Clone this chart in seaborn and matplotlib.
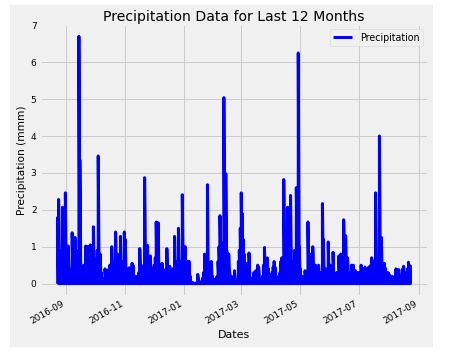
import pandas as pd
import seaborn as sns
import matplotlib.pyplot as plt
import matplotlib.dates as mdates
from matplotlib.patches import Rectangle

# daily maximum precipitation, one list per month
aug_2016 = [1.79, 2.28, 0.21, 0.70, 0.90, 2.07, 0.90, 0.60, 2.46]
sep_2016 = [1.00, 0.30, 1.02, 0.40, 0.30, 0.20, 1.38, 0.50, 1.20, 1.25,
            0.40, 0.30, 0.90, 6.70, 3.35, 0.50, 0.40, 0.30, 0.50, 0.20,
            1.02, 0.20, 1.00, 1.00, 0.20, 1.05, 0.30, 0.50, 1.54, 0.70]
oct_2016 = [0.60, 0.30, 0.90, 3.46, 0.70, 0.80, 0.30, 0.15, 0.10, 0.05,
            0.40, 0.30, 0.15, 0.37, 0.20, 0.50, 0.30, 1.00, 0.30, 0.20,
            0.50, 1.40, 0.20, 0.80, 0.20, 0.20, 1.28, 0.40, 0.60, 0.20,
            1.40]
nov_2016 = [1.20, 0.40, 0.30, 0.20, 0.43, 0.30, 0.20, 0.55, 0.50, 0.15,
            0.10, 0.20, 0.15, 0.10, 0.30, 0.95, 0.30, 0.35, 0.20, 0.50,
            2.87, 0.80, 0.40, 1.04, 0.30, 0.50, 0.75, 0.30, 0.40, 0.40]
dec_2016 = [0.50, 0.70, 1.67, 1.60, 1.65, 0.30, 0.25, 0.20, 0.55, 0.30,
            0.20, 0.30, 0.40, 0.95, 0.30, 0.20, 0.47, 0.30, 0.20, 0.40,
            0.30, 1.28, 0.50, 0.30, 0.60, 1.50, 0.50, 0.30, 0.60, 2.41,
            1.00]
jan_2017 = [0.70, 1.00, 0.60, 0.30, 0.60, 0.60, 0.20, 0.05, 0.00, 0.03,
            0.00, 0.00, 0.02, 0.00, 0.25, 0.10, 0.00, 0.00, 0.03, 0.15,
            0.30, 0.80, 0.20, 0.40, 2.68, 0.40, 0.10, 0.15, 0.60, 0.20,
            0.05]
feb_2017 = [0.10, 0.05, 0.15, 0.20, 0.60, 1.00, 1.84, 0.90, 1.10, 0.70,
            5.04, 1.50, 2.98, 0.90, 0.50, 0.80, 0.30, 0.20, 0.15, 0.10,
            0.20, 0.35, 0.10, 0.05, 0.10, 0.60, 0.90, 1.50]
mar_2017 = [2.46, 1.90, 1.20, 0.80, 0.30, 0.55, 0.50, 0.50, 0.83, 0.10,
            0.15, 0.05, 0.10, 0.30, 0.20, 0.35, 0.20, 0.50, 0.45, 0.10,
            0.05, 0.10, 0.20, 0.50, 0.98, 0.60, 0.30, 0.70, 0.40, 0.20,
            0.25]
apr_2017 = [0.20, 0.30, 0.45, 0.60, 0.44, 0.20, 0.10, 0.10, 0.20, 0.30,
            0.60, 0.70, 0.60, 2.82, 0.80, 0.50, 0.60, 2.07, 0.50, 0.60,
            2.39, 0.60, 0.40, 0.50, 0.90, 0.30, 2.60, 0.60, 6.25, 1.00]
may_2017 = [0.40, 0.10, 0.20, 0.05, 0.15, 0.35, 0.20, 0.30, 1.67, 0.30,
            0.80, 0.30, 0.20, 1.00, 0.30, 0.20, 0.50, 0.30, 0.15, 0.50,
            0.20, 0.20, 0.30, 2.17, 1.20, 0.40, 0.20, 0.40, 0.30, 1.13,
            0.40]
jun_2017 = [0.50, 0.30, 0.40, 0.85, 0.30, 0.15, 0.20, 0.30, 0.30, 0.75,
            0.40, 0.80, 0.30, 0.40, 1.73, 0.50, 1.30, 0.40, 0.70, 0.30,
            0.20, 0.30, 0.50, 0.20, 0.50, 0.20, 0.35, 0.20, 0.30, 0.25]
jul_2017 = [0.30, 0.25, 0.50, 0.30, 0.20, 0.33, 0.45, 0.30, 0.15, 0.20,
            0.45, 0.30, 0.50, 0.70, 0.40, 0.60, 0.50, 2.46, 0.60, 0.38,
            0.60, 4.00, 0.90, 1.25, 0.50, 0.40, 0.55, 0.42, 0.30, 0.20,
            0.30]
aug_2017 = [0.25, 0.15, 0.10, 0.20, 0.15, 0.10, 0.20, 0.40, 0.38, 0.30,
            0.38, 0.20, 0.15, 0.20, 0.40, 0.47, 0.20, 0.10, 0.30, 0.40,
            0.58, 0.50, 0.50]

month_starts = ["2016-08-23", "2016-09-01", "2016-10-01", "2016-11-01",
                "2016-12-01", "2017-01-01", "2017-02-01", "2017-03-01",
                "2017-04-01", "2017-05-01", "2017-06-01", "2017-07-01",
                "2017-08-01"]
month_values = [aug_2016, sep_2016, oct_2016, nov_2016, dec_2016, jan_2017,
                feb_2017, mar_2017, apr_2017, may_2017, jun_2017, jul_2017,
                aug_2017]

# driest station reads 0.00 on every day
dry_reading = 0.0

frames = []
for start, vals in zip(month_starts, month_values):
    dates = pd.date_range(start, periods=len(vals), freq="D")
    frames.append(pd.DataFrame({"date": dates, "prcp": vals}))
    frames.append(pd.DataFrame({"date": dates, "prcp": dry_reading}))
df = pd.concat(frames, ignore_index=True)

plt.style.use("fivethirtyeight")

fig = plt.figure(figsize=(474 / 72, 354 / 72), dpi=72, facecolor="white")
fig.patches.append(Rectangle((10 / 474, 1 - 347 / 354), 423 / 474, 342 / 354,
                             transform=fig.transFigure, facecolor="#f0f0f0",
                             edgecolor="none", zorder=-10))
ax = fig.add_axes([40 / 474, 1 - 296 / 354, 388 / 474, 272 / 354])

sns.lineplot(data=df, x="date", y="prcp", estimator=None, color="blue",
             linewidth=3, label="Precipitation", ax=ax)

ax.set_yticks(range(8))
ax.xaxis.set_major_locator(mdates.MonthLocator(bymonth=[1, 3, 5, 7, 9, 11]))
ax.xaxis.set_major_formatter(mdates.DateFormatter("%Y-%m"))
ax.tick_params(axis="both", labelsize=9)
for lbl in ax.get_xticklabels():
    lbl.set_rotation(30)
    lbl.set_ha("right")

ax.set_title("Precipitation Data for Last 12 Months", fontsize=14, pad=3)
ax.set_xlabel("Dates", fontsize=11)
ax.set_ylabel("Precipitation (mmm)", fontsize=10.5)
ax.legend(loc="upper right", fontsize=9.5)

fig.savefig("out.png", dpi=72, facecolor="white")
